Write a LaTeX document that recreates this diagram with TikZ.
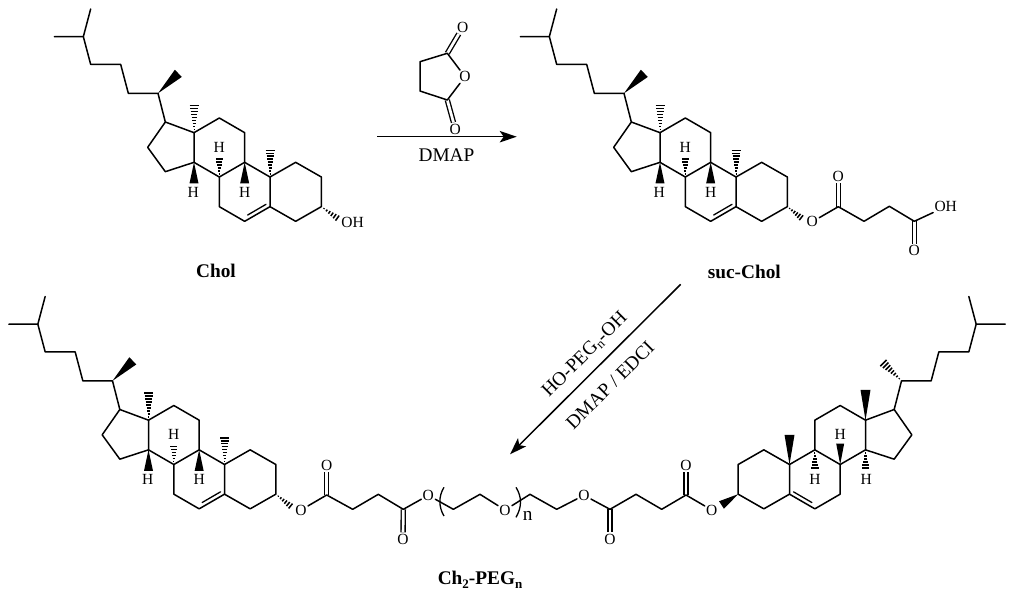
\documentclass[tikz,border=0pt]{standalone}
\usepackage{fontspec}
\setmainfont{Liberation Serif}
\usetikzlibrary{calc,arrows.meta}
\tikzset{
  bond/.style={line width=1.5pt,line join=round,line cap=round},
  dbl/.style={line width=1.35pt,double,double distance=2.7pt},
  atom/.style={inner sep=1.2pt,font=\fontsize{15.5}{15.5}\selectfont},
  lab/.style={inner sep=0pt,font=\fontsize{19.3}{19.3}\selectfont},
  blab/.style={inner sep=0pt,font=\fontsize{19.3}{19.3}\selectfont\bfseries},
  rxn/.style={line width=1.5pt,-{Stealth[length=17pt,width=11.5pt,inset=4pt]}},
}
\newcommand\wedgeb[4]{\fill ($(#2)!#3pt!90:(#1)$) -- (#1) -- ($(#2)!#3pt!-90:(#1)$) -- cycle;}
\newcommand\hashb[4]{\foreach \hashI in {1,...,#4}{%
  \pgfmathsetmacro\hashT{\hashI/#4}\pgfmathsetmacro\hashW{#3*\hashT}%
  \path ($(#1)!\hashT!(#2)$) coordinate (hp);
  \draw[line width=1.5pt] ($(hp)!\hashW pt!90:(#2)$) -- ($(hp)!\hashW pt!-90:(#2)$);}}
% #1 prefix, #2 x unit, #3 X, #4 Y, #5 first stereo bond kind, #6 second stereo bond kind
\newcommand\steroid[6]{%
\begin{scope}[x=#2,y=-0.33333pt,shift={(#3pt,-#4pt)}]
  \coordinate (#1Me1) at (43,50);
  \coordinate (#1Me2) at (152,-33);
  \coordinate (#1C25) at (130,50);
  \coordinate (#1C24) at (152,133);
  \coordinate (#1C23) at (242,133);
  \coordinate (#1C22) at (265,220);
  \coordinate (#1C20) at (354,220);
  \coordinate (#1Me3) at (415,160);
  \coordinate (#1C17) at (376,306);
  \coordinate (#1C16) at (323,382);
  \coordinate (#1C15) at (376,455);
  \coordinate (#1C14) at (462,427);
  \coordinate (#1C13) at (462,338);
  \coordinate (#1C12) at (538,294);
  \coordinate (#1C11) at (614,338);
  \coordinate (#1C9) at (614,427);
  \coordinate (#1C8) at (538,471);
  \coordinate (#1C10) at (690,471);
  \coordinate (#1C5) at (690,560);
  \coordinate (#1C6) at (614,604);
  \coordinate (#1C7) at (538,560);
  \coordinate (#1C1) at (767,427);
  \coordinate (#1C2) at (844,471);
  \coordinate (#1C3) at (844,560);
  \coordinate (#1C4) at (767,604);
  \coordinate (#1Me18) at (462,247);
  \coordinate (#1Me19) at (690,382);
  \coordinate (#1Ha) at (462,490);
  \coordinate (#1Hb) at (614,490);
  \coordinate (#1Hc) at (538,408);
  \coordinate (#1Da) at (623,585);
  \coordinate (#1Db) at (678,553);
  \node[atom] (#1Ha1) at (460,516) {H};
  \node[atom] (#1Hb1) at (614,516) {H};
  \node[atom] (#1Hc1) at (538,382) {H};
  \draw[bond] (#1Me1) -- (#1C25) -- (#1Me2);
  \draw[bond] (#1C25) -- (#1C24) -- (#1C23) -- (#1C22) -- (#1C20) -- (#1C17) -- (#1C16) -- (#1C15) -- (#1C14) -- (#1C13) -- (#1C17);
  \draw[bond] (#1C13) -- (#1C12) -- (#1C11) -- (#1C9) -- (#1C8) -- (#1C14);
  \draw[bond] (#1C9) -- (#1C10) -- (#1C5) -- (#1C6) -- (#1C7) -- (#1C8);
  \draw[bond] (#1C10) -- (#1C1) -- (#1C2) -- (#1C3) -- (#1C4) -- (#1C5);
  \draw[bond,line width=1.3pt] (#1Da) -- (#1Db);
  #5{#1C20}{#1Me3}{5}{9}
  #6{#1C13}{#1Me18}{5}{10}
  #6{#1C10}{#1Me19}{5}{10}
  #5{#1C14}{#1Ha}{4.5}{7}
  #5{#1C9}{#1Hb}{4.5}{7}
  #6{#1C8}{#1Hc}{4}{7}
\end{scope}}
\begin{document}
\begin{tikzpicture}[x=1pt,y=-1pt]
\useasboundingbox (0,0) rectangle (1024,595);
% Chol
\steroid{a}{0.33333pt}{40}{20}{\wedgeb}{\hashb}
\coordinate (aOe) at (340,220);
\node[atom,anchor=center] (aOH) at (352.5,222) {OH};
\hashb{aC3}{aOe}{3.6}{7}
\node[blab] (chol) at (216,270.5) {Chol};
% reagent
\coordinate (rC1) at (447.3,53.3);
\coordinate (rC2) at (420,61.7);
\coordinate (rC3) at (420,91);
\coordinate (rC4) at (447.3,100);
\node[atom] (rO1) at (462.7,27.3) {O};
\node[atom] (rO2) at (465,76.7) {O};
\node[atom] (rO3) at (455.3,129) {O};
\draw[dbl] (rC1) -- (rO1);
\draw[dbl] (rC4) -- (rO3);
\draw[bond] (rO2) -- (rC1) -- (rC2) -- (rC3) -- (rC4) -- (rO2);
\coordinate (ar1s) at (377.3,136.7);
\coordinate (ar1e) at (516.7,136.7);
\draw[rxn] (ar1s) -- (ar1e);
\node[lab] (dmap) at (446.5,155) {DMAP};
% suc-Chol
\steroid{b}{0.33333pt}{506}{20}{\wedgeb}{\hashb}
\coordinate (bOe) at (803.5,219.5);
\hashb{bC3}{bOe}{3.6}{7}
\node[atom] (bO1) at (812.3,221.7) {O};
\coordinate (bC1) at (838.3,206.7);
\node[atom] (bO2) at (838.3,176.7) {O};
\coordinate (bC2) at (864,221.3);
\coordinate (bC3x) at (889.3,206.3);
\coordinate (bC4) at (914.3,221.3);
\node[atom] (bO3) at (914.3,250.7) {O};
\node[atom] (bOH) at (945.7,206.7) {OH};
\draw[dbl] (bC1) -- (bO2);
\draw[dbl] (bC4) -- (bO3);
\draw[bond] (bO1) -- (bC1) -- (bC2) -- (bC3x) -- (bC4) -- (bOH);
\node[blab] (suc) at (744.3,271.5) {suc-Chol};
% second arrow
\coordinate (ar2s) at (680.7,284.3);
\coordinate (ar2e) at (510,454.3);
\draw[rxn] (ar2s) -- (ar2e);
\node[lab,rotate=45] (peg) at (585,355) {HO-PEG\raisebox{-3pt}{\fontsize{13}{13}\selectfont n}-OH};
\node[lab,rotate=45] (edci) at (610,385) {DMAP / EDCI};
% Ch2-PEGn left
\steroid{c}{0.33333pt}{-5.5}{307.5}{\wedgeb}{\hashb}
\coordinate (cOe) at (293,508);
\hashb{cC3}{cOe}{3.6}{7}
\node[atom] (cO1) at (301,510) {O};
\coordinate (cC1) at (326.7,495);
\node[atom] (cO2) at (326.7,465) {O};
\coordinate (cC2) at (352.7,509.3);
\coordinate (cC3x) at (378.3,494.3);
\coordinate (cC4) at (403.3,509.3);
\node[atom] (cO3) at (403,539) {O};
\node[atom] (cO4) at (428.3,495.3) {O};
\coordinate (p1) at (453.3,509.3);
\coordinate (p2) at (480,494.3);
\node[atom] (pO) at (505,510) {O};
\coordinate (p3) at (530,494.3);
\coordinate (p4) at (556.7,509.3);
\node[atom] (dO4) at (584,495.3) {O};
\coordinate (dC4) at (610,509.3);
\node[atom] (dO3) at (610,539) {O};
\coordinate (dC3x) at (636,494.3);
\coordinate (dC2) at (661.7,509.3);
\coordinate (dC1) at (686,495);
\node[atom] (dO2) at (686,465) {O};
\node[atom] (dO1) at (711.7,510) {O};
\draw[dbl] (cC1) -- (cO2);
\draw[dbl] (cC4) -- (cO3);
\draw[dbl] (dC4) -- (dO3);
\draw[dbl] (dC1) -- (dO2);
\draw[bond] (cO1) -- (cC1) -- (cC2) -- (cC3x) -- (cC4) -- (cO4) -- (p1) -- (p2) -- (pO) -- (p3) -- (p4) -- (dO4) -- (dC4) -- (dC3x) -- (dC2) -- (dC1) -- (dO1);
\coordinate (bl1) at (444,487.3);
\coordinate (bl2) at (444,516);
\coordinate (br1) at (516,487.3);
\coordinate (br2) at (516,517.3);
\draw[line width=1.3pt] (bl1) .. controls (438.5,496) and (438.5,507) .. (bl2);
\draw[line width=1.3pt] (br1) .. controls (522,497) and (522,507) .. (br2);
\node[lab] (nn) at (527.7,516) {n};
\node[blab] (chp) at (480,580) {Ch\raisebox{-3.5pt}{\fontsize{13}{13}\selectfont 2}-PEG\raisebox{-3.5pt}{\fontsize{13}{13}\selectfont n}};
% right steroid (mirror)
\steroid{d}{-0.33333pt}{1019.5}{307.5}{\hashb}{\wedgeb}
\coordinate (dOe) at (721.5,505);
\wedgeb{dC3}{dOe}{4.5}{7}
\end{tikzpicture}
\end{document}
